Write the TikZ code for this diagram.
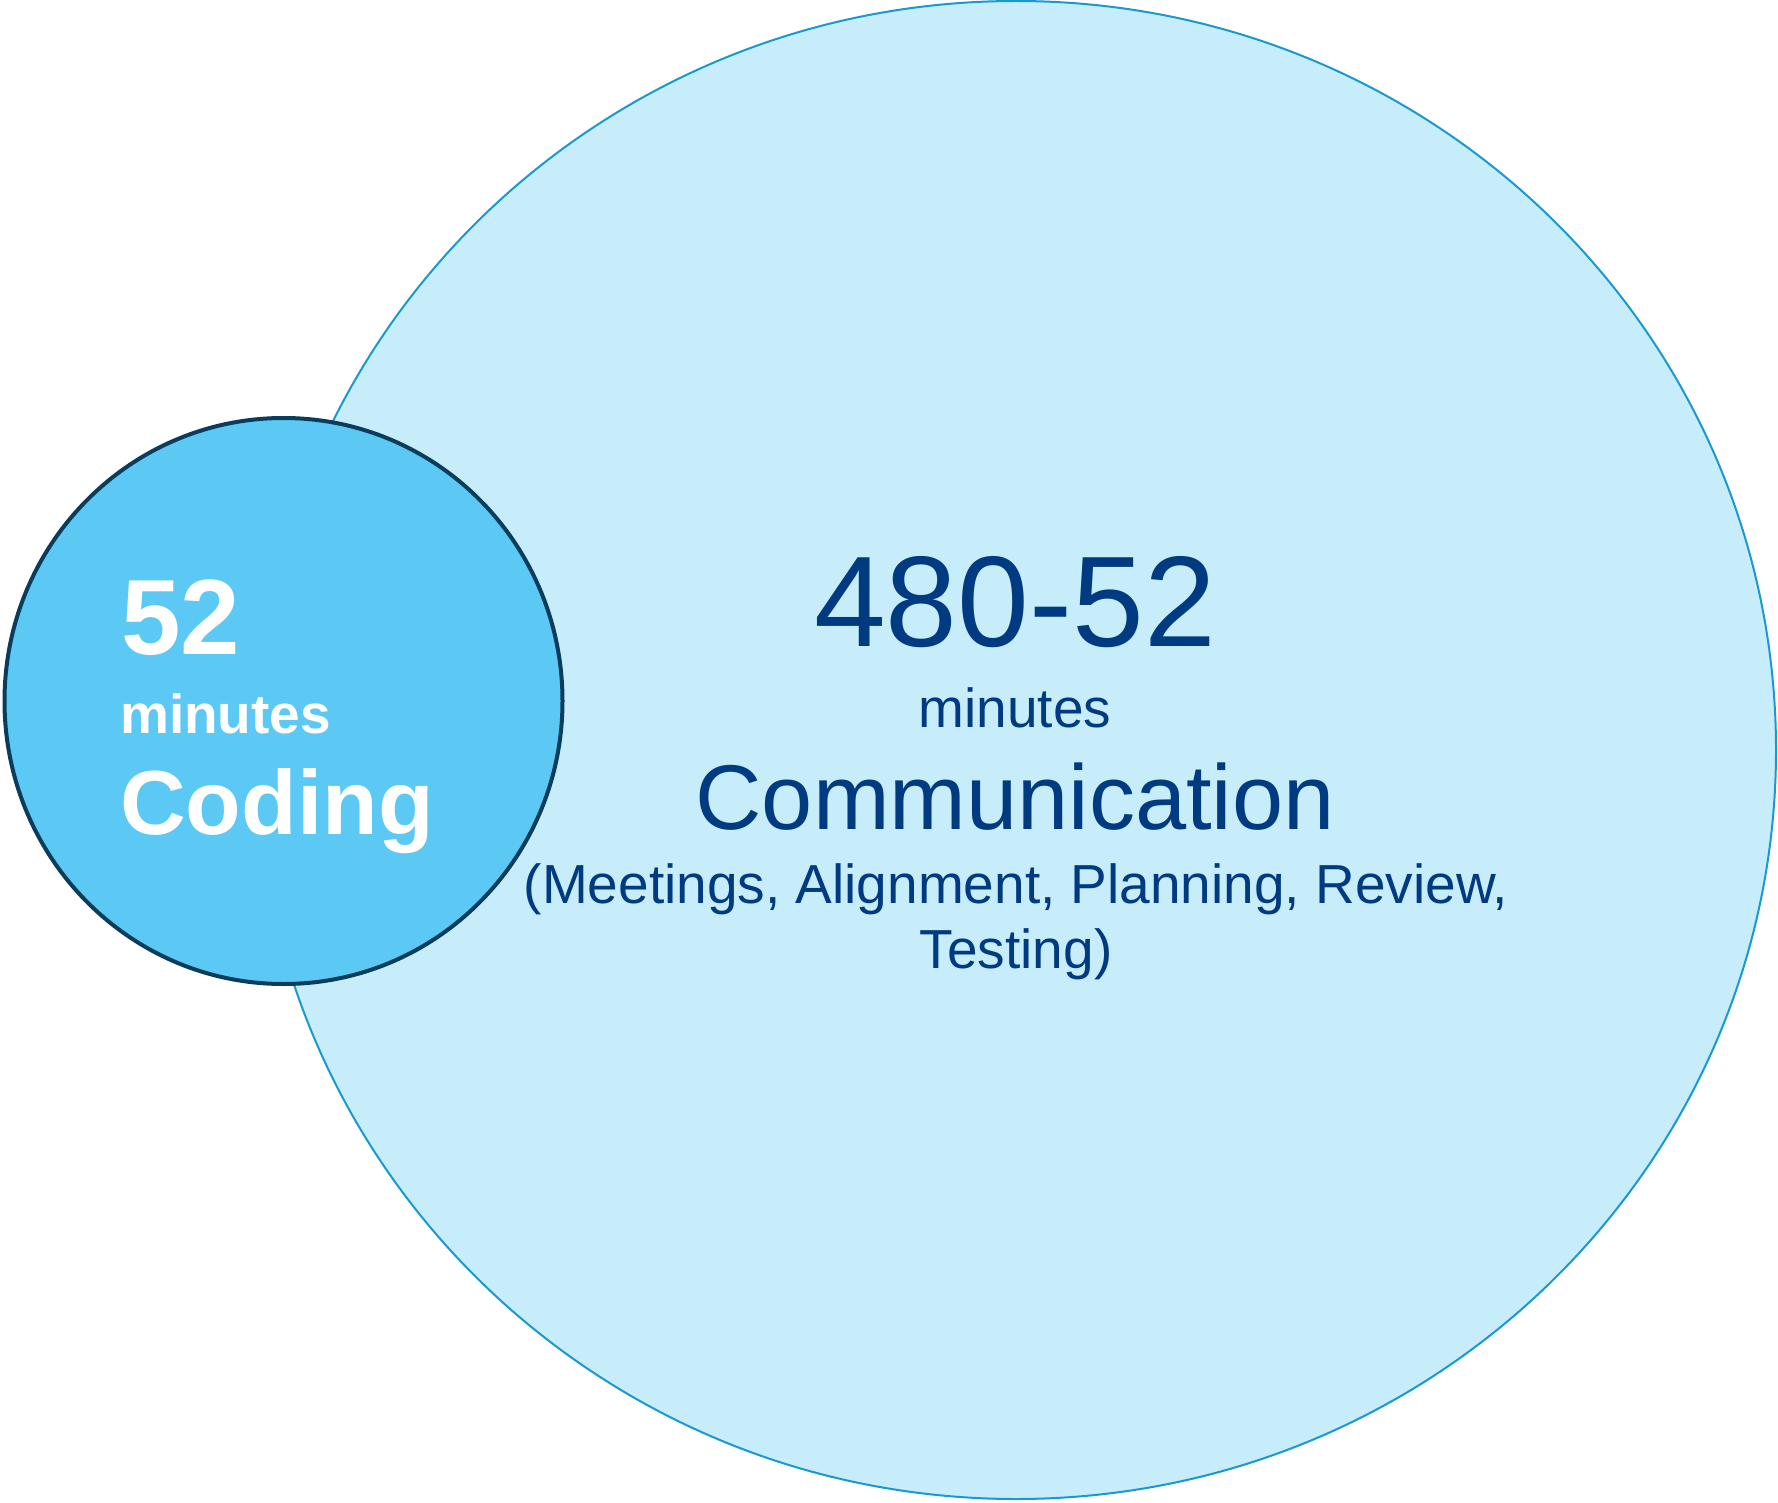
\documentclass[tikz,border=0pt]{standalone}
\usepackage{fontspec}
\setmainfont{Liberation Sans}
\usetikzlibrary{positioning}
\definecolor{commfill}{HTML}{C7EDFB}
\definecolor{commline}{HTML}{1899CF}
\definecolor{codefill}{HTML}{5BC9F4}
\definecolor{codeline}{HTML}{0A3D5C}
\definecolor{commtext}{HTML}{003A80}
\newcommand{\fsz}[1]{\fontsize{#1}{#1}\selectfont}

\begin{document}
\begin{tikzpicture}[x=1pt, y=-1pt,
	codetxt/.style = {text = white, inner sep = 0pt, anchor = base west, font = \bfseries},
	commtxt/.style = {text = commtext, inner sep = 0pt, anchor = base}]
	\useasboundingbox (0,0) rectangle (1778,1503);
	% big circle: communication
	\draw[commline, line width = 2pt, fill = commfill] (1016,750) ellipse [x radius = 760, y radius = 749];
	% small circle: coding
	\draw[codeline, line width = 4pt, fill = codefill] (283.5,701) ellipse [x radius = 279, y radius = 283];
	\node (codenum) at (121,654) [codetxt] {\fsz{107}52};
	\node (codemin) at (120,733) [codetxt] {\fsz{55}minutes};
	\node (codename) at (120,834) [codetxt] {\fsz{91}Coding};
	\node (commnum) at (1015,646) [commtxt] {\fsz{129}480-52};
	\node (commmin) at (1015,727) [commtxt] {\fsz{55}minutes};
	\node (commname) at (1015,829) [commtxt] {\fsz{92}Communication};
	\node (commlist) at (1016,903) [commtxt] {\fsz{55}(Meetings, Alignment, Planning, Review,};
	\node (commlast) at (1016,968) [commtxt] {\fsz{55}Testing)};
\end{tikzpicture}
\end{document}
